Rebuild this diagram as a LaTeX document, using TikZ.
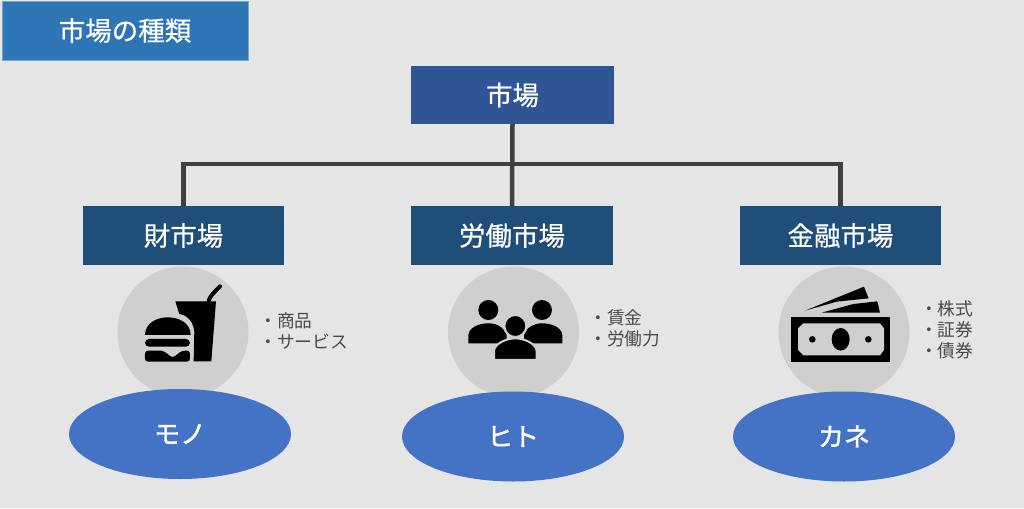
\documentclass[tikz,border=0pt]{standalone}
\usepackage{fontspec}
\setmainfont{Noto Sans CJK JP}
\newfontfamily\medfont[FakeBold=0.5]{Noto Sans CJK JP}
\newfontfamily\heavyfont[FakeBold=1.6]{Noto Sans CJK JP}
\usetikzlibrary{shapes.geometric}
\definecolor{bgc}{HTML}{E5E5E5}
\definecolor{navy}{HTML}{1F4E79}
\definecolor{topblue}{HTML}{2F5597}
\definecolor{titleblue}{HTML}{2E75B6}
\definecolor{titleedge}{HTML}{7AA3C9}
\definecolor{disc}{HTML}{D0CECE}
\definecolor{ovalblue}{HTML}{4472C4}
\definecolor{linec}{HTML}{404040}
\definecolor{notec}{HTML}{4A4A4A}
\tikzset{
  boxbase/.style={inner sep=0pt,outer sep=0pt,text=white,font=\medfont\fontsize{26.5}{30}\selectfont,align=center},
  navybox/.style={boxbase,fill=navy,minimum width=201pt,minimum height=59pt},
  topbox/.style={boxbase,fill=topblue,minimum width=203pt,minimum height=58pt},
  titlebox/.style={boxbase,fill=titleblue,draw=titleedge,line width=0.8pt,minimum width=246pt,minimum height=59pt},
  discnode/.style={circle,fill=disc,minimum size=131pt,inner sep=0pt,outer sep=0pt},
  oval/.style={ellipse,fill=ovalblue,minimum width=222pt,minimum height=90pt,inner sep=0pt,outer sep=0pt,text=white,font=\heavyfont\fontsize{26}{30}\selectfont},
  notes/.style={anchor=west,inner sep=0pt,outer sep=0pt,align=left,text=notec,font=\fontsize{17.7}{21}\selectfont},
  conn/.style={draw=linec,line width=4.5pt},
  icon/.style={fill=black,draw=none},
  haloed/.style={fill=black,draw=disc,line width=2pt},
}
\newcommand{\upt}[1]{\raisebox{1pt}{#1}}
\begin{document}
\begin{tikzpicture}[x=1pt,y=-1pt]
\useasboundingbox (0,0) rectangle (1024,508);
\fill[bgc] (0,0) rectangle (1024,508);
\node[titlebox] (title) at (125,30.5) {\upt{市場の種類}};
\node[topbox] (top) at (512.5,95) {\upt{市場}};
\node[navybox] (zai) at (183.5,235.5) {\upt{財市場}};
\node[navybox,minimum width=202pt] (rodo) at (512,235.5) {\upt{労働市場}};
\node[navybox] (kin) at (840.5,235.5) {\upt{金融市場}};
\coordinate (jct) at (512,164);
\draw[conn] (zai.north) |- (jct) -| (kin.north);
\draw[conn] (top.south) -- (rodo.north);
\node[discnode] (d1) at (183,332) {};
\node[discnode] (d2) at (513.5,332) {};
\node[discnode] (d3) at (844,332) {};
\node[oval] (o1) at (180,434) {モノ};
\node[oval] (o2) at (513,436.5) {ヒト};
\node[oval] (o3) at (844,436.5) {カネ};
\node[notes] (n1) at (259.5,330.5) {・商品\\・サービス};
\node[notes] (n2) at (589.5,328.5) {・賃金\\・労働力};
\node[notes] (n3) at (920,330) {・株式\\・証券\\・債券};
% food icon
\begin{scope}[shift={(100,260)},x=0.3333pt,y=-0.3333pt]
\draw[black,line width=4pt,line cap=round] (326,122) .. controls (330,108) and (345,95) .. (360,79);
\fill[icon] (226,124) -- (348,124) -- (334,304) -- (281,304) -- (283,215) .. controls (280,185) and (262,165) .. (238,162) -- cycle;
\fill[icon] (135,225) .. controls (135,190) and (170,172) .. (203,172) .. controls (238,172) and (272,190) .. (272,225) -- cycle;
\fill[icon,rounded corners=4pt] (135,237) rectangle (270,260);
\fill[icon,rounded corners=3pt] (135,272) -- (190,272) -- (218,294) -- (246,272) -- (270,272) -- (270,305) -- (135,305) -- cycle;
\end{scope}
% people icon
\begin{scope}[shift={(440,260)},x=0.3333pt,y=-0.3333pt]
\fill[icon] (145,150) circle (10pt);
\fill[icon] (306,150) circle (10pt);
\fill[icon] (85,250) -- (85,225) .. controls (88,200) and (120,190) .. (145,190) .. controls (170,190) and (190,200) .. (200,225) -- (200,250) -- cycle;
\fill[icon] (367,250) -- (367,225) .. controls (364,200) and (332,190) .. (306,190) .. controls (282,190) and (262,200) .. (252,225) -- (252,250) -- cycle;
\draw[haloed] (226,198) circle (11pt);
\draw[haloed] (162,300) -- (162,272) .. controls (165,250) and (200,235) .. (226,235) .. controls (252,235) and (287,250) .. (290,272) -- (290,300) -- cycle;
\fill[disc] (155,298) rectangle (295,310);
\end{scope}
% money icon
\begin{scope}[shift={(770,260)},x=0.3333pt,y=-0.3333pt]
\fill[icon] (105,152) -- (282,80) -- (296,115) -- (200,125) -- cycle;
\fill[icon] (155,158) -- (250,132) -- (322,124) -- (330,158) -- cycle;
\fill[icon] (64,170) rectangle (360,305);
\fill[disc] (84,205) -- (100,190) -- (330,190) -- (342,205) -- (342,270) -- (330,286) -- (100,286) -- (84,270) -- cycle;
\fill[icon] (212,238) ellipse (9pt and 11.3pt);
\fill[icon] (127,238) circle (3.3pt);
\fill[icon] (295,238) circle (3.3pt);
\end{scope}
\end{tikzpicture}
\end{document}
